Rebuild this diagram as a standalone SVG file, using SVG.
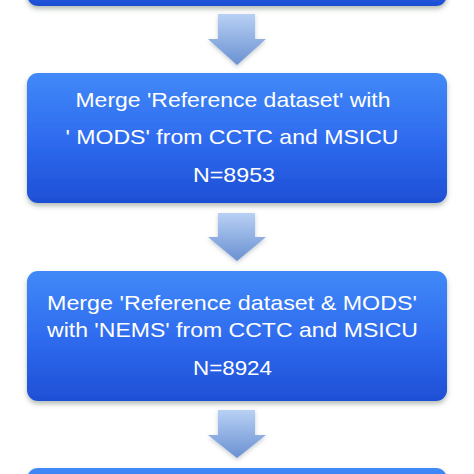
<svg xmlns="http://www.w3.org/2000/svg" width="474" height="474" viewBox="0 0 474 474">
  <defs>
    <linearGradient id="boxGrad" x1="0" y1="0" x2="0" y2="1">
      <stop offset="0" stop-color="#4189f8"/>
      <stop offset="0.5" stop-color="#2f6cef"/>
      <stop offset="1" stop-color="#1e4fd5"/>
    </linearGradient>
    <linearGradient id="arrowGrad" x1="0" y1="0" x2="0" y2="1">
      <stop offset="0" stop-color="#b8d0f4"/>
      <stop offset="1" stop-color="#6a91d2"/>
    </linearGradient>
    <filter id="shadow" x="-10%" y="-10%" width="120%" height="130%">
      <feDropShadow dx="0" dy="3" stdDeviation="2.5" flood-color="#5a6a5a" flood-opacity="0.45"/>
    </filter>
    <filter id="ashadow" x="-20%" y="-20%" width="140%" height="140%">
      <feDropShadow dx="0" dy="2" stdDeviation="2" flood-color="#607080" flood-opacity="0.35"/>
    </filter>
  </defs>
  <style>
    .box { fill: url(#boxGrad); filter: url(#shadow); }
    .arrow { fill: url(#arrowGrad); filter: url(#ashadow); }
    .lbl { font-family: "Liberation Sans", Arial, Helvetica, sans-serif; font-size: 21px; fill: #ffffff; text-anchor: middle; }
  </style>
  <rect width="474" height="474" fill="#ffffff"/>

  <g id="node-top">
    <rect class="box" x="27" y="-80" width="420" height="86" rx="11" ry="11"/>
  </g>

  <g id="node-merge-mods">
    <rect class="box" x="27" y="73" width="420" height="130" rx="11" ry="11"/>
    <text class="lbl" x="233" y="107" textLength="315" lengthAdjust="spacingAndGlyphs">Merge 'Reference dataset' with</text>
    <text class="lbl" x="232" y="144" textLength="333" lengthAdjust="spacingAndGlyphs">' MODS' from CCTC and MSICU</text>
    <text class="lbl" x="234" y="182" textLength="82" lengthAdjust="spacingAndGlyphs">N=8953</text>
  </g>

  <g id="node-merge-nems">
    <rect class="box" x="27" y="271" width="420" height="130" rx="11" ry="11"/>
    <text class="lbl" x="232" y="310" textLength="370" lengthAdjust="spacingAndGlyphs">Merge 'Reference dataset &amp; MODS'</text>
    <text class="lbl" x="232.5" y="337" textLength="371" lengthAdjust="spacingAndGlyphs">with 'NEMS' from CCTC and MSICU</text>
    <text class="lbl" x="232.5" y="375" textLength="79" lengthAdjust="spacingAndGlyphs">N=8924</text>
  </g>

  <g id="node-bottom">
    <rect class="box" x="27" y="468" width="420" height="80" rx="11" ry="11"/>
  </g>

  <g id="connectors">
    <polygon class="arrow" points="218,14 255,14 255,39 266,39 237,65 208,39 218,39"/>
    <polygon class="arrow" points="218,213 255,213 255,237 266,237 237,261 208,237 218,237"/>
    <polygon class="arrow" points="218,410 255,410 255,435 266,435 237,458 208,435 218,435"/>
  </g>
</svg>
